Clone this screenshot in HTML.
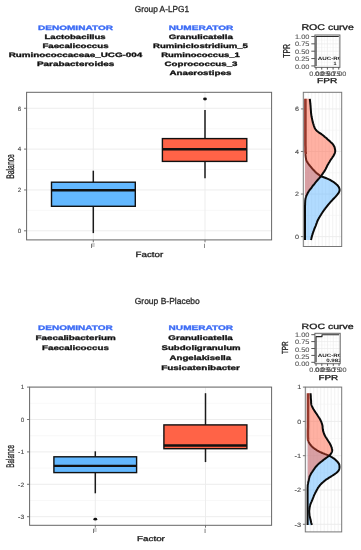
<!DOCTYPE html>
<html><head><meta charset="utf-8"><title>Balance plots</title>
<style>
html,body{margin:0;padding:0;background:#fff;}
svg{display:block;font-family:"Liberation Sans",sans-serif;text-rendering:geometricPrecision;}
</style></head>
<body>
<svg width="361" height="550" viewBox="0 0 361 550">
<rect x="0" y="0" width="361" height="550" fill="#fff"/>
<text transform="translate(134.70,12.00) scale(0.9550,1)" font-size="8.7" font-weight="normal" fill="#2b2b2b" stroke="#2b2b2b" stroke-width="0.3">Group A-LPG1</text>
<text transform="translate(37.90,30.30) scale(1.5744,1)" font-size="6.4" font-weight="bold" fill="#3B6BF5" stroke="#3B6BF5" stroke-width="0.3">DENOMINATOR</text>
<text transform="translate(44.50,39.40) scale(1.4963,1)" font-size="6.4" font-weight="bold" fill="#111" stroke="#111" stroke-width="0.3">Lactobacillus</text>
<text transform="translate(42.40,48.30) scale(1.5128,1)" font-size="6.4" font-weight="bold" fill="#111" stroke="#111" stroke-width="0.3">Faecalicoccus</text>
<text transform="translate(8.70,57.20) scale(1.5415,1)" font-size="6.4" font-weight="bold" fill="#111" stroke="#111" stroke-width="0.3">Ruminococcaceae_UCG-004</text>
<text transform="translate(36.90,66.00) scale(1.5561,1)" font-size="6.4" font-weight="bold" fill="#111" stroke="#111" stroke-width="0.3">Parabacteroides</text>
<text transform="translate(168.70,30.30) scale(1.5802,1)" font-size="6.4" font-weight="bold" fill="#3B6BF5" stroke="#3B6BF5" stroke-width="0.3">NUMERATOR</text>
<text transform="translate(168.70,39.40) scale(1.5191,1)" font-size="6.4" font-weight="bold" fill="#111" stroke="#111" stroke-width="0.3">Granulicatella</text>
<text transform="translate(153.00,48.30) scale(1.5024,1)" font-size="6.4" font-weight="bold" fill="#111" stroke="#111" stroke-width="0.3">Ruminiclostridium_5</text>
<text transform="translate(161.20,57.20) scale(1.4850,1)" font-size="6.4" font-weight="bold" fill="#111" stroke="#111" stroke-width="0.3">Ruminococcus_1</text>
<text transform="translate(164.50,66.00) scale(1.5224,1)" font-size="6.4" font-weight="bold" fill="#111" stroke="#111" stroke-width="0.3">Coprococcus_3</text>
<text transform="translate(169.40,75.00) scale(1.5315,1)" font-size="6.4" font-weight="bold" fill="#111" stroke="#111" stroke-width="0.3">Anaerostipes</text>
<rect x="314.90" y="35.00" width="25.00" height="32.40" fill="#fff" stroke="none" stroke-width="1"/>
<line x1="318.88" y1="35.00" x2="318.88" y2="67.40" stroke="#f3f3f3" stroke-width="0.5"/>
<line x1="314.90" y1="62.25" x2="339.90" y2="62.25" stroke="#f3f3f3" stroke-width="0.5"/>
<line x1="324.56" y1="35.00" x2="324.56" y2="67.40" stroke="#f3f3f3" stroke-width="0.5"/>
<line x1="314.90" y1="54.88" x2="339.90" y2="54.88" stroke="#f3f3f3" stroke-width="0.5"/>
<line x1="330.24" y1="35.00" x2="330.24" y2="67.40" stroke="#f3f3f3" stroke-width="0.5"/>
<line x1="314.90" y1="47.52" x2="339.90" y2="47.52" stroke="#f3f3f3" stroke-width="0.5"/>
<line x1="335.92" y1="35.00" x2="335.92" y2="67.40" stroke="#f3f3f3" stroke-width="0.5"/>
<line x1="314.90" y1="40.15" x2="339.90" y2="40.15" stroke="#f3f3f3" stroke-width="0.5"/>
<line x1="316.04" y1="35.00" x2="316.04" y2="67.40" stroke="#ebebeb" stroke-width="0.7"/>
<line x1="314.90" y1="65.93" x2="339.90" y2="65.93" stroke="#ebebeb" stroke-width="0.7"/>
<line x1="321.72" y1="35.00" x2="321.72" y2="67.40" stroke="#ebebeb" stroke-width="0.7"/>
<line x1="314.90" y1="58.56" x2="339.90" y2="58.56" stroke="#ebebeb" stroke-width="0.7"/>
<line x1="327.40" y1="35.00" x2="327.40" y2="67.40" stroke="#ebebeb" stroke-width="0.7"/>
<line x1="314.90" y1="51.20" x2="339.90" y2="51.20" stroke="#ebebeb" stroke-width="0.7"/>
<line x1="333.08" y1="35.00" x2="333.08" y2="67.40" stroke="#ebebeb" stroke-width="0.7"/>
<line x1="314.90" y1="43.84" x2="339.90" y2="43.84" stroke="#ebebeb" stroke-width="0.7"/>
<line x1="338.76" y1="35.00" x2="338.76" y2="67.40" stroke="#ebebeb" stroke-width="0.7"/>
<line x1="314.90" y1="36.47" x2="339.90" y2="36.47" stroke="#ebebeb" stroke-width="0.7"/>
<clipPath id="r35"><rect x="314.9" y="35.0" width="25.0" height="32.400000000000006"/></clipPath>
<g clip-path="url(#r35)">
<path d="M316.0,65.9 L316.0,36.5 L338.8,36.5" fill="none" stroke="#2a2a2a" stroke-width="1.15" stroke-linejoin="round" stroke-linecap="butt"/>
<text transform="translate(317.70,59.60) scale(1.3016,1)" font-size="4.8" font-weight="bold" fill="#222">AUC-ROC</text>
<text transform="translate(333.60,65.20) scale(1.1238,1)" font-size="4.8" font-weight="bold" fill="#222">1</text>
</g>
<rect x="314.90" y="35.00" width="25.00" height="32.40" fill="none" stroke="#666" stroke-width="1.0"/>
<line x1="311.30" y1="36.47" x2="314.90" y2="36.47" stroke="#444" stroke-width="0.9"/>
<text transform="translate(295.00,38.93) scale(1.1382,1)" font-size="6.5" font-weight="normal" fill="#555" stroke="#555" stroke-width="0.1">1.00</text>
<line x1="311.30" y1="43.84" x2="314.90" y2="43.84" stroke="#444" stroke-width="0.9"/>
<text transform="translate(295.00,46.43) scale(1.1382,1)" font-size="6.5" font-weight="normal" fill="#555" stroke="#555" stroke-width="0.1">0.75</text>
<line x1="311.30" y1="51.20" x2="314.90" y2="51.20" stroke="#444" stroke-width="0.9"/>
<text transform="translate(295.00,53.93) scale(1.1382,1)" font-size="6.5" font-weight="normal" fill="#555" stroke="#555" stroke-width="0.1">0.50</text>
<line x1="311.30" y1="58.56" x2="314.90" y2="58.56" stroke="#444" stroke-width="0.9"/>
<text transform="translate(295.00,61.43) scale(1.1382,1)" font-size="6.5" font-weight="normal" fill="#555" stroke="#555" stroke-width="0.1">0.25</text>
<line x1="311.30" y1="65.93" x2="314.90" y2="65.93" stroke="#444" stroke-width="0.9"/>
<text transform="translate(295.00,68.93) scale(1.1382,1)" font-size="6.5" font-weight="normal" fill="#555" stroke="#555" stroke-width="0.1">0.00</text>
<line x1="316.04" y1="67.40" x2="316.04" y2="69.60" stroke="#444" stroke-width="0.9"/>
<text transform="translate(309.34,76.33) scale(1.1224,1)" font-size="6.5" font-weight="normal" fill="#555" stroke="#555" stroke-width="0.1">0.00</text>
<line x1="321.72" y1="67.40" x2="321.72" y2="69.60" stroke="#444" stroke-width="0.9"/>
<text transform="translate(315.02,76.33) scale(1.1224,1)" font-size="6.5" font-weight="normal" fill="#555" stroke="#555" stroke-width="0.1">0.25</text>
<line x1="327.40" y1="67.40" x2="327.40" y2="69.60" stroke="#444" stroke-width="0.9"/>
<text transform="translate(320.70,76.33) scale(1.1224,1)" font-size="6.5" font-weight="normal" fill="#555" stroke="#555" stroke-width="0.1">0.50</text>
<line x1="333.08" y1="67.40" x2="333.08" y2="69.60" stroke="#444" stroke-width="0.9"/>
<text transform="translate(326.38,76.33) scale(1.1224,1)" font-size="6.5" font-weight="normal" fill="#555" stroke="#555" stroke-width="0.1">0.75</text>
<line x1="338.76" y1="67.40" x2="338.76" y2="69.60" stroke="#444" stroke-width="0.9"/>
<text transform="translate(332.06,76.33) scale(1.1224,1)" font-size="6.5" font-weight="normal" fill="#555" stroke="#555" stroke-width="0.1">1.00</text>
<text transform="translate(301.40,29.70) scale(1.2766,1)" font-size="8.3" font-weight="normal" fill="#1a1a1a" stroke="#1a1a1a" stroke-width="0.3">ROC curve</text>
<text transform="translate(290.40,57.70) rotate(-90) scale(0.6900,1)" font-size="10.0" fill="#1a1a1a" stroke="#1a1a1a" stroke-width="0.3">TPR</text>
<text transform="translate(317.00,83.40) scale(1.4428,1)" font-size="7.0" font-weight="normal" fill="#1a1a1a" stroke="#1a1a1a" stroke-width="0.3">FPR</text>
<rect x="26.60" y="92.30" width="245.00" height="147.60" fill="#fff" stroke="none" stroke-width="1"/>
<line x1="26.60" y1="210.38" x2="271.60" y2="210.38" stroke="#f3f3f3" stroke-width="0.6"/>
<line x1="26.60" y1="169.54" x2="271.60" y2="169.54" stroke="#f3f3f3" stroke-width="0.6"/>
<line x1="26.60" y1="128.70" x2="271.60" y2="128.70" stroke="#f3f3f3" stroke-width="0.6"/>
<line x1="26.60" y1="230.80" x2="271.60" y2="230.80" stroke="#ebebeb" stroke-width="0.9"/>
<line x1="26.60" y1="189.96" x2="271.60" y2="189.96" stroke="#ebebeb" stroke-width="0.9"/>
<line x1="26.60" y1="149.12" x2="271.60" y2="149.12" stroke="#ebebeb" stroke-width="0.9"/>
<line x1="26.60" y1="108.28" x2="271.60" y2="108.28" stroke="#ebebeb" stroke-width="0.9"/>
<line x1="93.30" y1="92.30" x2="93.30" y2="239.90" stroke="#ebebeb" stroke-width="0.9"/>
<line x1="205.00" y1="92.30" x2="205.00" y2="239.90" stroke="#ebebeb" stroke-width="0.9"/>
<line x1="93.30" y1="170.70" x2="93.30" y2="182.20" stroke="#1a1a1a" stroke-width="1.5"/>
<line x1="93.30" y1="206.30" x2="93.30" y2="233.10" stroke="#1a1a1a" stroke-width="1.5"/>
<rect x="51.50" y="182.20" width="83.80" height="24.10" fill="#63B8FF" stroke="#111" stroke-width="1.4"/>
<line x1="51.50" y1="190.20" x2="135.30" y2="190.20" stroke="#111" stroke-width="2.4"/>
<line x1="205.00" y1="109.90" x2="205.00" y2="138.60" stroke="#1a1a1a" stroke-width="1.5"/>
<line x1="205.00" y1="161.40" x2="205.00" y2="178.30" stroke="#1a1a1a" stroke-width="1.5"/>
<rect x="162.40" y="138.60" width="84.40" height="22.80" fill="#FF6347" stroke="#111" stroke-width="1.4"/>
<line x1="162.40" y1="149.20" x2="246.80" y2="149.20" stroke="#111" stroke-width="2.4"/>
<ellipse cx="205.0" cy="99.0" rx="1.9" ry="1.4" fill="#111"/>
<rect x="26.60" y="92.30" width="245.00" height="147.60" fill="none" stroke="#666" stroke-width="1.0"/>
<line x1="24.00" y1="108.28" x2="26.60" y2="108.28" stroke="#666" stroke-width="0.9"/>
<text transform="translate(17.80,110.50) scale(1.0150,1)" font-size="6.2" font-weight="normal" fill="#484848" stroke="#484848" stroke-width="0.1">6</text>
<line x1="24.00" y1="149.12" x2="26.60" y2="149.12" stroke="#666" stroke-width="0.9"/>
<text transform="translate(17.80,151.34) scale(1.0150,1)" font-size="6.2" font-weight="normal" fill="#484848" stroke="#484848" stroke-width="0.1">4</text>
<line x1="24.00" y1="189.96" x2="26.60" y2="189.96" stroke="#666" stroke-width="0.9"/>
<text transform="translate(17.80,192.18) scale(1.0150,1)" font-size="6.2" font-weight="normal" fill="#484848" stroke="#484848" stroke-width="0.1">2</text>
<line x1="24.00" y1="230.80" x2="26.60" y2="230.80" stroke="#666" stroke-width="0.9"/>
<text transform="translate(17.80,233.02) scale(1.0150,1)" font-size="6.2" font-weight="normal" fill="#484848" stroke="#484848" stroke-width="0.1">0</text>
<line x1="93.30" y1="239.90" x2="93.30" y2="242.30" stroke="#666" stroke-width="0.9"/>
<text transform="translate(90.70,247.92) scale(1.1090,1)" font-size="6.2" font-weight="normal" fill="#484848" stroke="#484848" stroke-width="0.1">F</text>
<line x1="205.00" y1="239.90" x2="205.00" y2="242.30" stroke="#666" stroke-width="0.9"/>
<text transform="translate(203.70,247.92) scale(0.9289,1)" font-size="6.2" font-weight="normal" fill="#484848" stroke="#484848" stroke-width="0.1">I</text>
<text transform="translate(135.50,256.60) scale(1.2860,1)" font-size="7.6" font-weight="normal" fill="#222" stroke="#222" stroke-width="0.3">Factor</text>
<text transform="translate(13.70,178.80) rotate(-90) scale(0.6213,1)" font-size="11.0" fill="#222" stroke="#222" stroke-width="0.3">Balance</text>
<rect x="303.30" y="92.30" width="38.40" height="154.20" fill="#fff" stroke="none" stroke-width="1"/>
<line x1="304.70" y1="92.30" x2="304.70" y2="246.50" stroke="#ececec" stroke-width="0.7"/>
<line x1="308.20" y1="92.30" x2="308.20" y2="246.50" stroke="#ececec" stroke-width="0.7"/>
<line x1="311.70" y1="92.30" x2="311.70" y2="246.50" stroke="#ececec" stroke-width="0.7"/>
<line x1="315.20" y1="92.30" x2="315.20" y2="246.50" stroke="#ececec" stroke-width="0.7"/>
<line x1="318.70" y1="92.30" x2="318.70" y2="246.50" stroke="#ececec" stroke-width="0.7"/>
<line x1="322.20" y1="92.30" x2="322.20" y2="246.50" stroke="#ececec" stroke-width="0.7"/>
<line x1="325.70" y1="92.30" x2="325.70" y2="246.50" stroke="#ececec" stroke-width="0.7"/>
<line x1="329.20" y1="92.30" x2="329.20" y2="246.50" stroke="#ececec" stroke-width="0.7"/>
<line x1="332.70" y1="92.30" x2="332.70" y2="246.50" stroke="#ececec" stroke-width="0.7"/>
<line x1="336.20" y1="92.30" x2="336.20" y2="246.50" stroke="#ececec" stroke-width="0.7"/>
<line x1="339.70" y1="92.30" x2="339.70" y2="246.50" stroke="#ececec" stroke-width="0.7"/>
<line x1="303.30" y1="215.32" x2="341.70" y2="215.32" stroke="#f3f3f3" stroke-width="0.6"/>
<line x1="303.30" y1="172.76" x2="341.70" y2="172.76" stroke="#f3f3f3" stroke-width="0.6"/>
<line x1="303.30" y1="130.20" x2="341.70" y2="130.20" stroke="#f3f3f3" stroke-width="0.6"/>
<line x1="303.30" y1="236.60" x2="341.70" y2="236.60" stroke="#ebebeb" stroke-width="0.9"/>
<line x1="303.30" y1="194.04" x2="341.70" y2="194.04" stroke="#ebebeb" stroke-width="0.9"/>
<line x1="303.30" y1="151.48" x2="341.70" y2="151.48" stroke="#ebebeb" stroke-width="0.9"/>
<line x1="303.30" y1="108.92" x2="341.70" y2="108.92" stroke="#ebebeb" stroke-width="0.9"/>
<clipPath id="c92"><rect x="303.3" y="92.3" width="38.39999999999998" height="154.2"/></clipPath>
<g clip-path="url(#c92)">
<path d="M305.0,98.8 L305.0,98.8 L305.0,102.3 L305.0,107.3 L305.0,113.1 L305.0,119.3 L305.0,125.1 L305.0,130.0 L305.0,134.2 L305.0,138.1 L305.0,141.6 L305.0,144.9 L305.1,147.7 L305.1,150.0 L305.1,151.7 L305.2,152.8 L305.3,153.4 L305.3,153.9 L305.4,154.3 L305.5,155.0 L305.6,155.9 L305.7,156.7 L305.8,157.6 L306.0,158.5 L306.1,159.3 L306.3,160.0 L306.5,160.6 L306.8,161.2 L307.0,161.7 L307.3,162.2 L307.7,162.7 L308.0,163.2 L308.4,163.8 L308.8,164.3 L309.2,164.9 L309.7,165.5 L310.1,166.0 L310.6,166.6 L311.1,167.2 L311.5,167.7 L312.0,168.3 L312.5,168.9 L313.0,169.4 L313.5,170.0 L314.0,170.6 L314.6,171.1 L315.1,171.7 L315.7,172.2 L316.2,172.7 L316.8,173.2 L317.4,173.7 L318.0,174.2 L318.6,174.6 L319.2,175.0 L319.7,175.4 L320.1,175.7 L320.3,175.9 L320.3,176.0 L320.3,176.0 L320.3,176.0 L320.5,176.1 L321.0,176.3 L321.9,176.6 L323.0,177.0 L324.4,177.5 L325.8,178.0 L327.2,178.6 L328.4,179.1 L329.5,179.6 L330.5,180.2 L331.5,180.8 L332.5,181.4 L333.4,181.9 L334.2,182.5 L335.0,183.1 L335.7,183.6 L336.3,184.2 L336.9,184.7 L337.4,185.3 L337.9,185.8 L338.3,186.4 L338.7,186.9 L339.0,187.5 L339.2,188.0 L339.4,188.6 L339.5,189.1 L339.6,189.6 L339.6,190.2 L339.5,190.7 L339.4,191.2 L339.2,191.8 L338.9,192.4 L338.5,193.0 L338.1,193.7 L337.5,194.4 L336.9,195.1 L336.3,195.8 L335.6,196.6 L334.9,197.4 L334.1,198.2 L333.3,199.0 L332.5,199.9 L331.7,200.8 L330.9,201.6 L330.2,202.4 L329.4,203.3 L328.7,204.1 L328.0,205.0 L327.3,205.8 L326.7,206.6 L326.1,207.4 L325.5,208.1 L325.0,208.8 L324.4,209.5 L323.9,210.3 L323.4,211.0 L322.9,211.7 L322.4,212.5 L321.9,213.2 L321.4,214.0 L321.0,214.7 L320.5,215.5 L320.0,216.2 L319.6,217.0 L319.1,217.7 L318.7,218.5 L318.3,219.2 L317.9,220.0 L317.5,220.8 L317.2,221.6 L316.9,222.5 L316.6,223.3 L316.3,224.2 L316.0,225.0 L315.7,225.8 L315.3,226.7 L315.0,227.5 L314.6,228.3 L314.3,229.2 L314.0,230.0 L313.7,230.8 L313.4,231.7 L313.1,232.5 L312.8,233.3 L312.6,234.2 L312.3,235.0 L312.0,235.9 L311.8,236.9 L311.5,237.8 L311.3,238.7 L311.1,239.5 L311.0,240.0 L305.0,240.0 Z" fill="#63B8FF" stroke="none" stroke-width="1" stroke-linejoin="round" stroke-linecap="butt" fill-opacity="0.5"/>
<path d="M305.0,98.8 L309.8,98.8 L309.9,99.6 L310.0,100.8 L310.2,102.2 L310.3,103.7 L310.5,105.2 L310.6,106.6 L310.7,108.0 L310.8,109.3 L310.9,110.7 L311.0,112.1 L311.1,113.5 L311.3,114.9 L311.5,116.3 L311.8,117.7 L312.1,119.1 L312.4,120.5 L312.7,121.9 L313.1,123.2 L313.5,124.4 L313.8,125.6 L314.3,126.8 L314.7,127.9 L315.3,129.0 L316.0,130.0 L316.9,130.9 L318.0,131.8 L319.1,132.6 L320.3,133.4 L321.5,134.2 L322.6,135.0 L323.6,135.8 L324.6,136.7 L325.6,137.5 L326.6,138.3 L327.5,139.2 L328.4,140.0 L329.3,140.8 L330.2,141.6 L331.1,142.5 L332.0,143.3 L332.8,144.1 L333.4,145.0 L333.9,145.9 L334.4,146.8 L334.7,147.8 L334.9,148.7 L335.1,149.6 L335.2,150.5 L335.2,151.3 L335.1,152.1 L334.9,152.8 L334.6,153.5 L334.3,154.2 L333.9,155.0 L333.5,155.8 L332.9,156.6 L332.4,157.5 L331.8,158.3 L331.2,159.2 L330.6,160.0 L330.1,160.8 L329.6,161.7 L329.1,162.5 L328.6,163.3 L328.1,164.2 L327.6,165.0 L327.2,165.8 L326.8,166.7 L326.4,167.5 L326.0,168.3 L325.6,169.2 L325.1,170.0 L324.6,170.9 L324.0,171.8 L323.3,172.7 L322.7,173.6 L322.2,174.4 L321.8,175.0 L321.6,175.4 L321.4,175.6 L321.4,175.7 L321.4,175.8 L321.3,176.0 L321.0,176.3 L320.6,176.8 L320.1,177.3 L319.5,177.9 L318.9,178.6 L318.2,179.3 L317.6,180.0 L316.9,180.8 L316.2,181.6 L315.5,182.5 L314.8,183.4 L314.1,184.3 L313.5,185.0 L313.0,185.6 L312.5,186.2 L312.1,186.8 L311.8,187.3 L311.4,187.8 L311.0,188.3 L310.6,188.8 L310.1,189.4 L309.7,189.9 L309.3,190.5 L308.9,191.0 L308.5,191.6 L308.2,192.2 L307.9,192.7 L307.6,193.3 L307.3,193.9 L307.0,194.4 L306.8,195.0 L306.6,195.5 L306.3,196.0 L306.1,196.6 L305.9,197.1 L305.8,197.7 L305.6,198.3 L305.5,198.9 L305.4,199.6 L305.3,200.2 L305.2,201.0 L305.2,202.0 L305.1,203.2 L305.1,204.6 L305.0,206.1 L305.0,207.8 L305.0,209.8 L305.0,212.2 L305.0,215.0 L305.0,218.7 L305.0,223.3 L305.0,228.2 L305.0,233.0 L305.0,237.1 L305.0,240.0 L305.0,240.0 Z" fill="#FF6347" stroke="none" stroke-width="1" stroke-linejoin="round" stroke-linecap="butt" fill-opacity="0.5"/>
<path d="M305.0,98.8 L305.0,102.3 L305.0,107.3 L305.0,113.1 L305.0,119.3 L305.0,125.1 L305.0,130.0 L305.0,134.2 L305.0,138.1 L305.0,141.6 L305.0,144.9 L305.1,147.7 L305.1,150.0 L305.1,151.7 L305.2,152.8 L305.3,153.4 L305.3,153.9" fill="none" stroke="#96382c" stroke-width="2.6" stroke-linejoin="round" stroke-linecap="butt" transform="translate(0.4,0)"/>
<path d="M305.3,153.9 L305.4,154.3 L305.5,155.0 L305.6,155.9 L305.7,156.7 L305.8,157.6 L306.0,158.5 L306.1,159.3 L306.3,160.0 L306.5,160.6 L306.8,161.2 L307.0,161.7 L307.3,162.2 L307.7,162.7 L308.0,163.2 L308.4,163.8 L308.8,164.3 L309.2,164.9 L309.7,165.5 L310.1,166.0 L310.6,166.6 L311.1,167.2 L311.5,167.7 L312.0,168.3 L312.5,168.9 L313.0,169.4 L313.5,170.0 L314.0,170.6 L314.6,171.1 L315.1,171.7 L315.7,172.2 L316.2,172.7 L316.8,173.2 L317.4,173.7 L318.0,174.2 L318.6,174.6 L319.2,175.0 L319.7,175.4 L320.1,175.7 L320.3,175.9 L320.3,176.0 L320.3,176.0 L320.3,176.0 L320.5,176.1 L321.0,176.3" fill="none" stroke="#6e251b" stroke-width="2.0" stroke-linejoin="round" stroke-linecap="butt"/>
<path d="M321.0,176.3 L321.9,176.6 L323.0,177.0 L324.4,177.5 L325.8,178.0 L327.2,178.6 L328.4,179.1 L329.5,179.6 L330.5,180.2 L331.5,180.8 L332.5,181.4 L333.4,181.9 L334.2,182.5 L335.0,183.1 L335.7,183.6 L336.3,184.2 L336.9,184.7 L337.4,185.3 L337.9,185.8 L338.3,186.4 L338.7,186.9 L339.0,187.5 L339.2,188.0 L339.4,188.6 L339.5,189.1 L339.6,189.6 L339.6,190.2 L339.5,190.7 L339.4,191.2 L339.2,191.8 L338.9,192.4 L338.5,193.0 L338.1,193.7 L337.5,194.4 L336.9,195.1 L336.3,195.8 L335.6,196.6 L334.9,197.4 L334.1,198.2 L333.3,199.0 L332.5,199.9 L331.7,200.8 L330.9,201.6 L330.2,202.4 L329.4,203.3 L328.7,204.1 L328.0,205.0 L327.3,205.8 L326.7,206.6 L326.1,207.4 L325.5,208.1 L325.0,208.8 L324.4,209.5 L323.9,210.3 L323.4,211.0 L322.9,211.7 L322.4,212.5 L321.9,213.2 L321.4,214.0 L321.0,214.7 L320.5,215.5 L320.0,216.2 L319.6,217.0 L319.1,217.7 L318.7,218.5 L318.3,219.2 L317.9,220.0 L317.5,220.8 L317.2,221.6 L316.9,222.5 L316.6,223.3 L316.3,224.2 L316.0,225.0 L315.7,225.8 L315.3,226.7 L315.0,227.5 L314.6,228.3 L314.3,229.2 L314.0,230.0 L313.7,230.8 L313.4,231.7 L313.1,232.5 L312.8,233.3 L312.6,234.2 L312.3,235.0 L312.0,235.9 L311.8,236.9 L311.5,237.8 L311.3,238.7 L311.1,239.5 L311.0,240.0" fill="none" stroke="#0a0a0a" stroke-width="2.0" stroke-linejoin="round" stroke-linecap="butt"/>
<path d="M309.8,98.8 L309.9,99.6 L310.0,100.8 L310.2,102.2 L310.3,103.7 L310.5,105.2 L310.6,106.6 L310.7,108.0 L310.8,109.3 L310.9,110.7 L311.0,112.1 L311.1,113.5 L311.3,114.9 L311.5,116.3 L311.8,117.7 L312.1,119.1 L312.4,120.5 L312.7,121.9 L313.1,123.2 L313.5,124.4 L313.8,125.6 L314.3,126.8 L314.7,127.9 L315.3,129.0 L316.0,130.0 L316.9,130.9 L318.0,131.8 L319.1,132.6 L320.3,133.4 L321.5,134.2 L322.6,135.0 L323.6,135.8 L324.6,136.7 L325.6,137.5 L326.6,138.3 L327.5,139.2 L328.4,140.0 L329.3,140.8 L330.2,141.6 L331.1,142.5 L332.0,143.3 L332.8,144.1 L333.4,145.0 L333.9,145.9 L334.4,146.8 L334.7,147.8 L334.9,148.7 L335.1,149.6 L335.2,150.5 L335.2,151.3 L335.1,152.1 L334.9,152.8 L334.6,153.5 L334.3,154.2 L333.9,155.0 L333.5,155.8 L332.9,156.6 L332.4,157.5 L331.8,158.3 L331.2,159.2 L330.6,160.0 L330.1,160.8 L329.6,161.7 L329.1,162.5 L328.6,163.3 L328.1,164.2 L327.6,165.0 L327.2,165.8 L326.8,166.7 L326.4,167.5 L326.0,168.3 L325.6,169.2 L325.1,170.0 L324.6,170.9 L324.0,171.8 L323.3,172.7 L322.7,173.6 L322.2,174.4 L321.8,175.0 L321.6,175.4 L321.4,175.6 L321.4,175.7 L321.4,175.8 L321.3,176.0 L321.0,176.3 L320.6,176.8 L320.1,177.3 L319.5,177.9 L318.9,178.6 L318.2,179.3 L317.6,180.0 L316.9,180.8 L316.2,181.6 L315.5,182.5 L314.8,183.4 L314.1,184.3 L313.5,185.0 L313.0,185.6 L312.5,186.2 L312.1,186.8 L311.8,187.3 L311.4,187.8 L311.0,188.3 L310.6,188.8 L310.1,189.4 L309.7,189.9 L309.3,190.5 L308.9,191.0 L308.5,191.6 L308.2,192.2 L307.9,192.7 L307.6,193.3 L307.3,193.9 L307.0,194.4 L306.8,195.0 L306.6,195.5 L306.3,196.0 L306.1,196.6 L305.9,197.1 L305.8,197.7 L305.6,198.3 L305.5,198.9 L305.4,199.6 L305.3,200.2 L305.2,201.0 L305.2,202.0 L305.1,203.2 L305.1,204.6 L305.0,206.1 L305.0,207.8 L305.0,209.8 L305.0,212.2 L305.0,215.0 L305.0,218.7 L305.0,223.3 L305.0,228.2 L305.0,233.0 L305.0,237.1 L305.0,240.0" fill="none" stroke="#0a0a0a" stroke-width="2.0" stroke-linejoin="round" stroke-linecap="butt"/>
</g>
<rect x="303.30" y="92.30" width="38.40" height="154.20" fill="none" stroke="#777" stroke-width="1.0"/>
<line x1="300.90" y1="108.92" x2="303.30" y2="108.92" stroke="#666" stroke-width="0.9"/>
<text transform="translate(295.00,111.14) scale(1.1600,1)" font-size="6.2" font-weight="normal" fill="#484848" stroke="#484848" stroke-width="0.1">6</text>
<line x1="300.90" y1="151.48" x2="303.30" y2="151.48" stroke="#666" stroke-width="0.9"/>
<text transform="translate(295.00,153.70) scale(1.1600,1)" font-size="6.2" font-weight="normal" fill="#484848" stroke="#484848" stroke-width="0.1">4</text>
<line x1="300.90" y1="194.04" x2="303.30" y2="194.04" stroke="#666" stroke-width="0.9"/>
<text transform="translate(295.00,196.26) scale(1.1600,1)" font-size="6.2" font-weight="normal" fill="#484848" stroke="#484848" stroke-width="0.1">2</text>
<line x1="300.90" y1="236.60" x2="303.30" y2="236.60" stroke="#666" stroke-width="0.9"/>
<text transform="translate(295.00,238.82) scale(1.1600,1)" font-size="6.2" font-weight="normal" fill="#484848" stroke="#484848" stroke-width="0.1">0</text>
<text transform="translate(134.70,304.40) scale(0.9769,1)" font-size="8.7" font-weight="normal" fill="#2b2b2b" stroke="#2b2b2b" stroke-width="0.3">Group B-Placebo</text>
<text transform="translate(38.00,330.00) scale(1.4979,1)" font-size="6.7" font-weight="bold" fill="#3B6BF5" stroke="#3B6BF5" stroke-width="0.3">DENOMINATOR</text>
<text transform="translate(35.50,339.90) scale(1.4705,1)" font-size="6.7" font-weight="bold" fill="#111" stroke="#111" stroke-width="0.3">Faecalibacterium</text>
<text transform="translate(42.00,349.90) scale(1.4625,1)" font-size="6.7" font-weight="bold" fill="#111" stroke="#111" stroke-width="0.3">Faecalicoccus</text>
<text transform="translate(168.60,330.00) scale(1.5048,1)" font-size="6.7" font-weight="bold" fill="#3B6BF5" stroke="#3B6BF5" stroke-width="0.3">NUMERATOR</text>
<text transform="translate(168.30,339.90) scale(1.4578,1)" font-size="6.7" font-weight="bold" fill="#111" stroke="#111" stroke-width="0.3">Granulicatella</text>
<text transform="translate(161.60,349.90) scale(1.4359,1)" font-size="6.7" font-weight="bold" fill="#111" stroke="#111" stroke-width="0.3">Subdoligranulum</text>
<text transform="translate(169.60,359.60) scale(1.4383,1)" font-size="6.7" font-weight="bold" fill="#111" stroke="#111" stroke-width="0.3">Angelakisella</text>
<text transform="translate(161.30,369.50) scale(1.4761,1)" font-size="6.7" font-weight="bold" fill="#111" stroke="#111" stroke-width="0.3">Fusicatenibacter</text>
<rect x="314.90" y="333.30" width="25.30" height="30.40" fill="#fff" stroke="none" stroke-width="1"/>
<line x1="318.92" y1="333.30" x2="318.92" y2="363.70" stroke="#f3f3f3" stroke-width="0.5"/>
<line x1="314.90" y1="358.86" x2="340.20" y2="358.86" stroke="#f3f3f3" stroke-width="0.5"/>
<line x1="324.67" y1="333.30" x2="324.67" y2="363.70" stroke="#f3f3f3" stroke-width="0.5"/>
<line x1="314.90" y1="351.95" x2="340.20" y2="351.95" stroke="#f3f3f3" stroke-width="0.5"/>
<line x1="330.43" y1="333.30" x2="330.43" y2="363.70" stroke="#f3f3f3" stroke-width="0.5"/>
<line x1="314.90" y1="345.05" x2="340.20" y2="345.05" stroke="#f3f3f3" stroke-width="0.5"/>
<line x1="336.18" y1="333.30" x2="336.18" y2="363.70" stroke="#f3f3f3" stroke-width="0.5"/>
<line x1="314.90" y1="338.14" x2="340.20" y2="338.14" stroke="#f3f3f3" stroke-width="0.5"/>
<line x1="316.05" y1="333.30" x2="316.05" y2="363.70" stroke="#ebebeb" stroke-width="0.7"/>
<line x1="314.90" y1="362.32" x2="340.20" y2="362.32" stroke="#ebebeb" stroke-width="0.7"/>
<line x1="321.80" y1="333.30" x2="321.80" y2="363.70" stroke="#ebebeb" stroke-width="0.7"/>
<line x1="314.90" y1="355.41" x2="340.20" y2="355.41" stroke="#ebebeb" stroke-width="0.7"/>
<line x1="327.55" y1="333.30" x2="327.55" y2="363.70" stroke="#ebebeb" stroke-width="0.7"/>
<line x1="314.90" y1="348.50" x2="340.20" y2="348.50" stroke="#ebebeb" stroke-width="0.7"/>
<line x1="333.30" y1="333.30" x2="333.30" y2="363.70" stroke="#ebebeb" stroke-width="0.7"/>
<line x1="314.90" y1="341.59" x2="340.20" y2="341.59" stroke="#ebebeb" stroke-width="0.7"/>
<line x1="339.05" y1="333.30" x2="339.05" y2="363.70" stroke="#ebebeb" stroke-width="0.7"/>
<line x1="314.90" y1="334.68" x2="340.20" y2="334.68" stroke="#ebebeb" stroke-width="0.7"/>
<clipPath id="r333"><rect x="314.9" y="333.3" width="25.30000000000001" height="30.399999999999977"/></clipPath>
<g clip-path="url(#r333)">
<path d="M316.0,362.3 L316.0,336.6 L322.0,336.6 L322.0,334.7 L339.1,334.7" fill="none" stroke="#2a2a2a" stroke-width="1.15" stroke-linejoin="round" stroke-linecap="butt"/>
<text transform="translate(317.70,356.60) scale(1.3016,1)" font-size="4.8" font-weight="bold" fill="#222">AUC-ROC</text>
<text transform="translate(326.20,361.60) scale(1.2904,1)" font-size="4.8" font-weight="bold" fill="#222">0.983</text>
</g>
<rect x="314.90" y="333.30" width="25.30" height="30.40" fill="none" stroke="#666" stroke-width="1.0"/>
<line x1="311.30" y1="334.68" x2="314.90" y2="334.68" stroke="#444" stroke-width="0.9"/>
<text transform="translate(295.00,337.33) scale(1.1382,1)" font-size="6.5" font-weight="normal" fill="#555" stroke="#555" stroke-width="0.1">1.00</text>
<line x1="311.30" y1="341.59" x2="314.90" y2="341.59" stroke="#444" stroke-width="0.9"/>
<text transform="translate(295.00,344.43) scale(1.1382,1)" font-size="6.5" font-weight="normal" fill="#555" stroke="#555" stroke-width="0.1">0.75</text>
<line x1="311.30" y1="348.50" x2="314.90" y2="348.50" stroke="#444" stroke-width="0.9"/>
<text transform="translate(295.00,351.53) scale(1.1382,1)" font-size="6.5" font-weight="normal" fill="#555" stroke="#555" stroke-width="0.1">0.50</text>
<line x1="311.30" y1="355.41" x2="314.90" y2="355.41" stroke="#444" stroke-width="0.9"/>
<text transform="translate(295.00,358.73) scale(1.1382,1)" font-size="6.5" font-weight="normal" fill="#555" stroke="#555" stroke-width="0.1">0.25</text>
<line x1="311.30" y1="362.32" x2="314.90" y2="362.32" stroke="#444" stroke-width="0.9"/>
<text transform="translate(295.00,365.53) scale(1.1382,1)" font-size="6.5" font-weight="normal" fill="#555" stroke="#555" stroke-width="0.1">0.00</text>
<line x1="316.05" y1="363.70" x2="316.05" y2="365.90" stroke="#444" stroke-width="0.9"/>
<text transform="translate(309.35,371.53) scale(1.1224,1)" font-size="6.5" font-weight="normal" fill="#555" stroke="#555" stroke-width="0.1">0.00</text>
<line x1="321.80" y1="363.70" x2="321.80" y2="365.90" stroke="#444" stroke-width="0.9"/>
<text transform="translate(315.10,371.53) scale(1.1224,1)" font-size="6.5" font-weight="normal" fill="#555" stroke="#555" stroke-width="0.1">0.25</text>
<line x1="327.55" y1="363.70" x2="327.55" y2="365.90" stroke="#444" stroke-width="0.9"/>
<text transform="translate(320.85,371.53) scale(1.1224,1)" font-size="6.5" font-weight="normal" fill="#555" stroke="#555" stroke-width="0.1">0.50</text>
<line x1="333.30" y1="363.70" x2="333.30" y2="365.90" stroke="#444" stroke-width="0.9"/>
<text transform="translate(326.60,371.53) scale(1.1224,1)" font-size="6.5" font-weight="normal" fill="#555" stroke="#555" stroke-width="0.1">0.75</text>
<line x1="339.05" y1="363.70" x2="339.05" y2="365.90" stroke="#444" stroke-width="0.9"/>
<text transform="translate(332.35,371.53) scale(1.1224,1)" font-size="6.5" font-weight="normal" fill="#555" stroke="#555" stroke-width="0.1">1.00</text>
<text transform="translate(301.60,328.80) scale(1.3708,1)" font-size="7.7" font-weight="normal" fill="#1a1a1a" stroke="#1a1a1a" stroke-width="0.3">ROC curve</text>
<text transform="translate(288.30,354.10) rotate(-90) scale(0.7272,1)" font-size="8.8" fill="#1a1a1a" stroke="#1a1a1a" stroke-width="0.3">TPR</text>
<text transform="translate(318.50,379.50) scale(1.4071,1)" font-size="7.0" font-weight="normal" fill="#1a1a1a" stroke="#1a1a1a" stroke-width="0.3">FPR</text>
<rect x="29.60" y="387.10" width="242.00" height="138.20" fill="#fff" stroke="none" stroke-width="1"/>
<line x1="29.60" y1="403.30" x2="271.60" y2="403.30" stroke="#f3f3f3" stroke-width="0.6"/>
<line x1="29.60" y1="435.70" x2="271.60" y2="435.70" stroke="#f3f3f3" stroke-width="0.6"/>
<line x1="29.60" y1="468.10" x2="271.60" y2="468.10" stroke="#f3f3f3" stroke-width="0.6"/>
<line x1="29.60" y1="500.50" x2="271.60" y2="500.50" stroke="#f3f3f3" stroke-width="0.6"/>
<line x1="29.60" y1="387.10" x2="271.60" y2="387.10" stroke="#ebebeb" stroke-width="0.9"/>
<line x1="29.60" y1="419.50" x2="271.60" y2="419.50" stroke="#ebebeb" stroke-width="0.9"/>
<line x1="29.60" y1="451.90" x2="271.60" y2="451.90" stroke="#ebebeb" stroke-width="0.9"/>
<line x1="29.60" y1="484.30" x2="271.60" y2="484.30" stroke="#ebebeb" stroke-width="0.9"/>
<line x1="29.60" y1="516.70" x2="271.60" y2="516.70" stroke="#ebebeb" stroke-width="0.9"/>
<line x1="95.30" y1="387.10" x2="95.30" y2="525.30" stroke="#ebebeb" stroke-width="0.9"/>
<line x1="205.50" y1="387.10" x2="205.50" y2="525.30" stroke="#ebebeb" stroke-width="0.9"/>
<line x1="95.30" y1="451.30" x2="95.30" y2="456.80" stroke="#1a1a1a" stroke-width="1.5"/>
<line x1="95.30" y1="472.60" x2="95.30" y2="493.30" stroke="#1a1a1a" stroke-width="1.5"/>
<rect x="53.90" y="456.80" width="82.70" height="15.80" fill="#63B8FF" stroke="#111" stroke-width="1.4"/>
<line x1="53.90" y1="465.90" x2="136.60" y2="465.90" stroke="#111" stroke-width="2.4"/>
<line x1="205.50" y1="393.20" x2="205.50" y2="424.90" stroke="#1a1a1a" stroke-width="1.5"/>
<line x1="205.50" y1="448.70" x2="205.50" y2="462.10" stroke="#1a1a1a" stroke-width="1.5"/>
<rect x="163.90" y="424.90" width="83.00" height="23.80" fill="#FF6347" stroke="#111" stroke-width="1.4"/>
<line x1="163.90" y1="445.50" x2="246.90" y2="445.50" stroke="#111" stroke-width="2.4"/>
<ellipse cx="95.3" cy="519.2" rx="1.9" ry="1.4" fill="#111"/>
<rect x="29.60" y="387.10" width="242.00" height="138.20" fill="none" stroke="#666" stroke-width="1.0"/>
<line x1="27.00" y1="387.10" x2="29.60" y2="387.10" stroke="#666" stroke-width="0.9"/>
<text transform="translate(20.70,389.32) scale(1.0150,1)" font-size="6.2" font-weight="normal" fill="#484848" stroke="#484848" stroke-width="0.1">1</text>
<line x1="27.00" y1="419.50" x2="29.60" y2="419.50" stroke="#666" stroke-width="0.9"/>
<text transform="translate(20.70,421.72) scale(1.0150,1)" font-size="6.2" font-weight="normal" fill="#484848" stroke="#484848" stroke-width="0.1">0</text>
<line x1="27.00" y1="451.90" x2="29.60" y2="451.90" stroke="#666" stroke-width="0.9"/>
<text transform="translate(18.10,454.12) scale(1.1064,1)" font-size="6.2" font-weight="normal" fill="#484848" stroke="#484848" stroke-width="0.1">-1</text>
<line x1="27.00" y1="484.30" x2="29.60" y2="484.30" stroke="#666" stroke-width="0.9"/>
<text transform="translate(18.10,486.52) scale(1.1064,1)" font-size="6.2" font-weight="normal" fill="#484848" stroke="#484848" stroke-width="0.1">-2</text>
<line x1="27.00" y1="516.70" x2="29.60" y2="516.70" stroke="#666" stroke-width="0.9"/>
<text transform="translate(18.10,518.92) scale(1.1064,1)" font-size="6.2" font-weight="normal" fill="#484848" stroke="#484848" stroke-width="0.1">-3</text>
<line x1="95.30" y1="525.30" x2="95.30" y2="527.70" stroke="#666" stroke-width="0.9"/>
<text transform="translate(92.70,533.22) scale(1.1090,1)" font-size="6.2" font-weight="normal" fill="#484848" stroke="#484848" stroke-width="0.1">F</text>
<line x1="205.50" y1="525.30" x2="205.50" y2="527.70" stroke="#666" stroke-width="0.9"/>
<text transform="translate(204.20,533.22) scale(0.9289,1)" font-size="6.2" font-weight="normal" fill="#484848" stroke="#484848" stroke-width="0.1">I</text>
<text transform="translate(137.00,541.10) scale(1.4064,1)" font-size="7.0" font-weight="normal" fill="#222" stroke="#222" stroke-width="0.3">Factor</text>
<text transform="translate(13.80,467.70) rotate(-90) scale(0.5633,1)" font-size="11.2" fill="#222" stroke="#222" stroke-width="0.3">Balance</text>
<rect x="305.30" y="387.10" width="36.40" height="144.80" fill="#fff" stroke="none" stroke-width="1"/>
<line x1="306.70" y1="387.10" x2="306.70" y2="531.90" stroke="#ececec" stroke-width="0.7"/>
<line x1="310.20" y1="387.10" x2="310.20" y2="531.90" stroke="#ececec" stroke-width="0.7"/>
<line x1="313.70" y1="387.10" x2="313.70" y2="531.90" stroke="#ececec" stroke-width="0.7"/>
<line x1="317.20" y1="387.10" x2="317.20" y2="531.90" stroke="#ececec" stroke-width="0.7"/>
<line x1="320.70" y1="387.10" x2="320.70" y2="531.90" stroke="#ececec" stroke-width="0.7"/>
<line x1="324.20" y1="387.10" x2="324.20" y2="531.90" stroke="#ececec" stroke-width="0.7"/>
<line x1="327.70" y1="387.10" x2="327.70" y2="531.90" stroke="#ececec" stroke-width="0.7"/>
<line x1="331.20" y1="387.10" x2="331.20" y2="531.90" stroke="#ececec" stroke-width="0.7"/>
<line x1="334.70" y1="387.10" x2="334.70" y2="531.90" stroke="#ececec" stroke-width="0.7"/>
<line x1="338.20" y1="387.10" x2="338.20" y2="531.90" stroke="#ececec" stroke-width="0.7"/>
<line x1="305.30" y1="404.25" x2="341.70" y2="404.25" stroke="#f3f3f3" stroke-width="0.6"/>
<line x1="305.30" y1="438.55" x2="341.70" y2="438.55" stroke="#f3f3f3" stroke-width="0.6"/>
<line x1="305.30" y1="472.85" x2="341.70" y2="472.85" stroke="#f3f3f3" stroke-width="0.6"/>
<line x1="305.30" y1="507.15" x2="341.70" y2="507.15" stroke="#f3f3f3" stroke-width="0.6"/>
<line x1="305.30" y1="387.10" x2="341.70" y2="387.10" stroke="#ebebeb" stroke-width="0.9"/>
<line x1="305.30" y1="421.40" x2="341.70" y2="421.40" stroke="#ebebeb" stroke-width="0.9"/>
<line x1="305.30" y1="455.70" x2="341.70" y2="455.70" stroke="#ebebeb" stroke-width="0.9"/>
<line x1="305.30" y1="490.00" x2="341.70" y2="490.00" stroke="#ebebeb" stroke-width="0.9"/>
<line x1="305.30" y1="524.30" x2="341.70" y2="524.30" stroke="#ebebeb" stroke-width="0.9"/>
<clipPath id="c387"><rect x="305.3" y="387.1" width="36.39999999999998" height="144.79999999999995"/></clipPath>
<g clip-path="url(#c387)">
<path d="M307.6,393.3 L307.6,393.3 L307.6,396.3 L307.6,400.5 L307.6,405.5 L307.6,410.7 L307.6,415.7 L307.6,420.0 L307.6,423.7 L307.6,427.3 L307.5,430.6 L307.5,433.6 L307.5,436.2 L307.6,438.3 L307.7,439.7 L307.8,440.5 L307.9,440.9 L308.1,441.0 L308.3,441.2 L308.5,441.6 L308.8,442.2 L309.1,442.7 L309.4,443.3 L309.8,443.9 L310.2,444.4 L310.6,445.0 L311.1,445.6 L311.6,446.1 L312.1,446.7 L312.7,447.2 L313.3,447.8 L314.0,448.3 L314.8,448.9 L315.6,449.4 L316.5,450.0 L317.4,450.6 L318.4,451.1 L319.3,451.6 L320.3,452.1 L321.3,452.5 L322.3,453.0 L323.3,453.4 L324.2,453.7 L325.1,454.1 L325.9,454.4 L326.6,454.7 L327.3,454.9 L327.9,455.1 L328.5,455.4 L329.2,455.7 L329.9,456.1 L330.6,456.5 L331.3,456.9 L332.1,457.3 L332.8,457.8 L333.4,458.2 L334.0,458.6 L334.6,459.1 L335.2,459.6 L335.7,460.1 L336.2,460.5 L336.7,461.0 L337.1,461.5 L337.6,461.9 L338.0,462.4 L338.3,462.9 L338.6,463.3 L338.9,463.8 L339.1,464.3 L339.3,464.7 L339.4,465.2 L339.4,465.6 L339.5,466.1 L339.5,466.6 L339.5,467.1 L339.5,467.7 L339.4,468.3 L339.3,468.9 L339.2,469.4 L338.9,470.0 L338.6,470.6 L338.2,471.1 L337.7,471.7 L337.1,472.2 L336.5,472.8 L335.9,473.3 L335.2,473.8 L334.4,474.4 L333.5,474.9 L332.7,475.5 L331.8,476.0 L330.9,476.6 L330.0,477.2 L329.1,477.7 L328.2,478.3 L327.3,478.9 L326.4,479.4 L325.6,480.0 L324.9,480.6 L324.2,481.1 L323.6,481.7 L322.9,482.2 L322.4,482.8 L321.8,483.3 L321.3,483.8 L320.7,484.4 L320.2,484.9 L319.8,485.5 L319.3,486.0 L318.9,486.6 L318.5,487.1 L318.2,487.7 L317.8,488.2 L317.5,488.8 L317.2,489.3 L316.8,490.0 L316.4,490.7 L316.0,491.5 L315.5,492.4 L315.1,493.2 L314.7,494.1 L314.3,494.9 L313.9,495.7 L313.6,496.6 L313.3,497.4 L313.0,498.2 L312.6,499.1 L312.3,499.9 L311.9,500.7 L311.6,501.6 L311.2,502.4 L310.8,503.3 L310.5,504.2 L310.2,505.0 L310.0,505.9 L309.8,506.7 L309.6,507.6 L309.5,508.5 L309.4,509.3 L309.3,510.0 L309.2,510.6 L309.2,511.2 L309.2,511.8 L309.2,512.3 L309.3,512.8 L309.3,513.3 L309.4,513.8 L309.4,514.4 L309.5,514.9 L309.6,515.5 L309.7,516.0 L309.8,516.6 L309.9,517.1 L310.0,517.7 L310.2,518.2 L310.3,518.7 L310.4,519.3 L310.6,520.0 L310.8,520.8 L311.0,521.7 L311.2,522.7 L311.5,523.6 L311.7,524.4 L311.8,525.0 L307.6,525.0 Z" fill="#63B8FF" stroke="none" stroke-width="1" stroke-linejoin="round" stroke-linecap="butt" fill-opacity="0.5"/>
<path d="M307.6,393.3 L310.6,393.3 L310.6,394.0 L310.7,395.1 L310.8,396.3 L310.8,397.6 L310.9,398.9 L311.0,400.0 L311.1,400.9 L311.1,401.8 L311.1,402.6 L311.2,403.4 L311.3,404.2 L311.5,405.0 L311.8,405.8 L312.2,406.7 L312.6,407.5 L313.0,408.3 L313.5,409.2 L314.0,410.0 L314.5,410.8 L315.0,411.7 L315.6,412.5 L316.2,413.3 L316.8,414.2 L317.3,415.0 L317.8,415.8 L318.4,416.7 L318.9,417.5 L319.5,418.3 L320.0,419.2 L320.4,420.0 L320.8,420.8 L321.2,421.7 L321.5,422.5 L321.8,423.3 L322.1,424.2 L322.3,425.0 L322.5,425.8 L322.6,426.7 L322.6,427.5 L322.7,428.3 L322.8,429.2 L322.9,430.0 L323.1,430.8 L323.3,431.7 L323.6,432.5 L323.9,433.3 L324.2,434.2 L324.6,435.0 L325.0,435.8 L325.5,436.7 L326.0,437.5 L326.6,438.3 L327.1,439.2 L327.6,440.0 L328.1,440.8 L328.7,441.7 L329.2,442.5 L329.7,443.3 L330.2,444.2 L330.6,445.0 L331.0,445.9 L331.3,446.7 L331.7,447.6 L331.9,448.5 L332.1,449.3 L332.2,450.0 L332.2,450.6 L332.1,451.2 L331.9,451.8 L331.7,452.3 L331.5,452.7 L331.2,453.2 L331.0,453.6 L330.7,454.0 L330.5,454.4 L330.2,454.8 L329.8,455.2 L329.2,455.7 L328.4,456.3 L327.5,457.0 L326.4,457.8 L325.3,458.6 L324.3,459.3 L323.4,460.0 L322.6,460.6 L321.9,461.2 L321.2,461.7 L320.5,462.2 L319.9,462.8 L319.3,463.3 L318.7,463.8 L318.1,464.4 L317.6,464.9 L317.0,465.5 L316.5,466.0 L316.0,466.6 L315.5,467.2 L315.1,467.7 L314.7,468.3 L314.3,468.9 L313.9,469.4 L313.5,470.0 L313.1,470.6 L312.7,471.1 L312.3,471.7 L312.0,472.2 L311.6,472.8 L311.3,473.3 L311.0,473.8 L310.7,474.4 L310.4,474.9 L310.1,475.5 L309.8,476.0 L309.6,476.6 L309.4,477.2 L309.3,477.7 L309.1,478.3 L309.0,478.9 L308.9,479.4 L308.8,480.0 L308.7,480.5 L308.6,481.0 L308.4,481.6 L308.3,482.1 L308.2,482.7 L308.1,483.3 L308.0,483.9 L307.9,484.4 L307.8,484.9 L307.7,485.6 L307.7,486.7 L307.6,488.2 L307.6,490.3 L307.6,492.8 L307.6,495.7 L307.6,498.7 L307.6,501.9 L307.6,505.0 L307.6,508.4 L307.6,512.2 L307.6,516.0 L307.6,519.7 L307.6,522.8 L307.6,525.0 L307.6,525.0 Z" fill="#FF6347" stroke="none" stroke-width="1" stroke-linejoin="round" stroke-linecap="butt" fill-opacity="0.5"/>
<path d="M307.6,393.3 L307.6,396.3 L307.6,400.5 L307.6,405.5 L307.6,410.7 L307.6,415.7 L307.6,420.0 L307.6,423.7 L307.6,427.3 L307.5,430.6 L307.5,433.6 L307.5,436.2 L307.6,438.3 L307.7,439.7 L307.8,440.5 L307.9,440.9" fill="none" stroke="#96382c" stroke-width="2.6" stroke-linejoin="round" stroke-linecap="butt" transform="translate(0.4,0)"/>
<path d="M307.9,440.9 L308.1,441.0 L308.3,441.2 L308.5,441.6 L308.8,442.2 L309.1,442.7 L309.4,443.3 L309.8,443.9 L310.2,444.4 L310.6,445.0 L311.1,445.6 L311.6,446.1 L312.1,446.7 L312.7,447.2 L313.3,447.8 L314.0,448.3 L314.8,448.9 L315.6,449.4 L316.5,450.0 L317.4,450.6 L318.4,451.1 L319.3,451.6 L320.3,452.1 L321.3,452.5 L322.3,453.0 L323.3,453.4 L324.2,453.7 L325.1,454.1 L325.9,454.4 L326.6,454.7 L327.3,454.9 L327.9,455.1 L328.5,455.4 L329.2,455.7" fill="none" stroke="#6e251b" stroke-width="2.0" stroke-linejoin="round" stroke-linecap="butt"/>
<path d="M329.2,455.7 L329.9,456.1 L330.6,456.5 L331.3,456.9 L332.1,457.3 L332.8,457.8 L333.4,458.2 L334.0,458.6 L334.6,459.1 L335.2,459.6 L335.7,460.1 L336.2,460.5 L336.7,461.0 L337.1,461.5 L337.6,461.9 L338.0,462.4 L338.3,462.9 L338.6,463.3 L338.9,463.8 L339.1,464.3 L339.3,464.7 L339.4,465.2 L339.4,465.6 L339.5,466.1 L339.5,466.6 L339.5,467.1 L339.5,467.7 L339.4,468.3 L339.3,468.9 L339.2,469.4 L338.9,470.0 L338.6,470.6 L338.2,471.1 L337.7,471.7 L337.1,472.2 L336.5,472.8 L335.9,473.3 L335.2,473.8 L334.4,474.4 L333.5,474.9 L332.7,475.5 L331.8,476.0 L330.9,476.6 L330.0,477.2 L329.1,477.7 L328.2,478.3 L327.3,478.9 L326.4,479.4 L325.6,480.0 L324.9,480.6 L324.2,481.1 L323.6,481.7 L322.9,482.2 L322.4,482.8 L321.8,483.3 L321.3,483.8 L320.7,484.4 L320.2,484.9 L319.8,485.5 L319.3,486.0 L318.9,486.6 L318.5,487.1 L318.2,487.7 L317.8,488.2 L317.5,488.8 L317.2,489.3 L316.8,490.0 L316.4,490.7 L316.0,491.5 L315.5,492.4 L315.1,493.2 L314.7,494.1 L314.3,494.9 L313.9,495.7 L313.6,496.6 L313.3,497.4 L313.0,498.2 L312.6,499.1 L312.3,499.9 L311.9,500.7 L311.6,501.6 L311.2,502.4 L310.8,503.3 L310.5,504.2 L310.2,505.0 L310.0,505.9 L309.8,506.7 L309.6,507.6 L309.5,508.5 L309.4,509.3 L309.3,510.0 L309.2,510.6 L309.2,511.2 L309.2,511.8 L309.2,512.3 L309.3,512.8 L309.3,513.3 L309.4,513.8 L309.4,514.4 L309.5,514.9 L309.6,515.5 L309.7,516.0 L309.8,516.6 L309.9,517.1 L310.0,517.7 L310.2,518.2 L310.3,518.7 L310.4,519.3 L310.6,520.0 L310.8,520.8 L311.0,521.7 L311.2,522.7 L311.5,523.6 L311.7,524.4 L311.8,525.0" fill="none" stroke="#0a0a0a" stroke-width="2.0" stroke-linejoin="round" stroke-linecap="butt"/>
<path d="M310.6,393.3 L310.6,394.0 L310.7,395.1 L310.8,396.3 L310.8,397.6 L310.9,398.9 L311.0,400.0 L311.1,400.9 L311.1,401.8 L311.1,402.6 L311.2,403.4 L311.3,404.2 L311.5,405.0 L311.8,405.8 L312.2,406.7 L312.6,407.5 L313.0,408.3 L313.5,409.2 L314.0,410.0 L314.5,410.8 L315.0,411.7 L315.6,412.5 L316.2,413.3 L316.8,414.2 L317.3,415.0 L317.8,415.8 L318.4,416.7 L318.9,417.5 L319.5,418.3 L320.0,419.2 L320.4,420.0 L320.8,420.8 L321.2,421.7 L321.5,422.5 L321.8,423.3 L322.1,424.2 L322.3,425.0 L322.5,425.8 L322.6,426.7 L322.6,427.5 L322.7,428.3 L322.8,429.2 L322.9,430.0 L323.1,430.8 L323.3,431.7 L323.6,432.5 L323.9,433.3 L324.2,434.2 L324.6,435.0 L325.0,435.8 L325.5,436.7 L326.0,437.5 L326.6,438.3 L327.1,439.2 L327.6,440.0 L328.1,440.8 L328.7,441.7 L329.2,442.5 L329.7,443.3 L330.2,444.2 L330.6,445.0 L331.0,445.9 L331.3,446.7 L331.7,447.6 L331.9,448.5 L332.1,449.3 L332.2,450.0 L332.2,450.6 L332.1,451.2 L331.9,451.8 L331.7,452.3 L331.5,452.7 L331.2,453.2 L331.0,453.6 L330.7,454.0 L330.5,454.4 L330.2,454.8 L329.8,455.2 L329.2,455.7 L328.4,456.3 L327.5,457.0 L326.4,457.8 L325.3,458.6 L324.3,459.3 L323.4,460.0 L322.6,460.6 L321.9,461.2 L321.2,461.7 L320.5,462.2 L319.9,462.8 L319.3,463.3 L318.7,463.8 L318.1,464.4 L317.6,464.9 L317.0,465.5 L316.5,466.0 L316.0,466.6 L315.5,467.2 L315.1,467.7 L314.7,468.3 L314.3,468.9 L313.9,469.4 L313.5,470.0 L313.1,470.6 L312.7,471.1 L312.3,471.7 L312.0,472.2 L311.6,472.8 L311.3,473.3 L311.0,473.8 L310.7,474.4 L310.4,474.9 L310.1,475.5 L309.8,476.0 L309.6,476.6 L309.4,477.2 L309.3,477.7 L309.1,478.3 L309.0,478.9 L308.9,479.4 L308.8,480.0 L308.7,480.5 L308.6,481.0 L308.4,481.6 L308.3,482.1 L308.2,482.7 L308.1,483.3 L308.0,483.9 L307.9,484.4 L307.8,484.9 L307.7,485.6 L307.7,486.7 L307.6,488.2 L307.6,490.3 L307.6,492.8 L307.6,495.7 L307.6,498.7 L307.6,501.9 L307.6,505.0 L307.6,508.4 L307.6,512.2 L307.6,516.0 L307.6,519.7 L307.6,522.8 L307.6,525.0" fill="none" stroke="#0a0a0a" stroke-width="2.0" stroke-linejoin="round" stroke-linecap="butt"/>
</g>
<rect x="305.30" y="387.10" width="36.40" height="144.80" fill="none" stroke="#777" stroke-width="1.0"/>
<line x1="302.90" y1="387.10" x2="305.30" y2="387.10" stroke="#666" stroke-width="0.9"/>
<text transform="translate(297.20,389.32) scale(1.1600,1)" font-size="6.2" font-weight="normal" fill="#484848" stroke="#484848" stroke-width="0.1">1</text>
<line x1="302.90" y1="421.40" x2="305.30" y2="421.40" stroke="#666" stroke-width="0.9"/>
<text transform="translate(297.20,423.62) scale(1.1600,1)" font-size="6.2" font-weight="normal" fill="#484848" stroke="#484848" stroke-width="0.1">0</text>
<line x1="302.90" y1="455.70" x2="305.30" y2="455.70" stroke="#666" stroke-width="0.9"/>
<text transform="translate(294.60,457.92) scale(1.1971,1)" font-size="6.2" font-weight="normal" fill="#484848" stroke="#484848" stroke-width="0.1">-1</text>
<line x1="302.90" y1="490.00" x2="305.30" y2="490.00" stroke="#666" stroke-width="0.9"/>
<text transform="translate(294.60,492.22) scale(1.1971,1)" font-size="6.2" font-weight="normal" fill="#484848" stroke="#484848" stroke-width="0.1">-2</text>
<line x1="302.90" y1="524.30" x2="305.30" y2="524.30" stroke="#666" stroke-width="0.9"/>
<text transform="translate(294.60,526.52) scale(1.1971,1)" font-size="6.2" font-weight="normal" fill="#484848" stroke="#484848" stroke-width="0.1">-3</text>
</svg>
</body></html>
